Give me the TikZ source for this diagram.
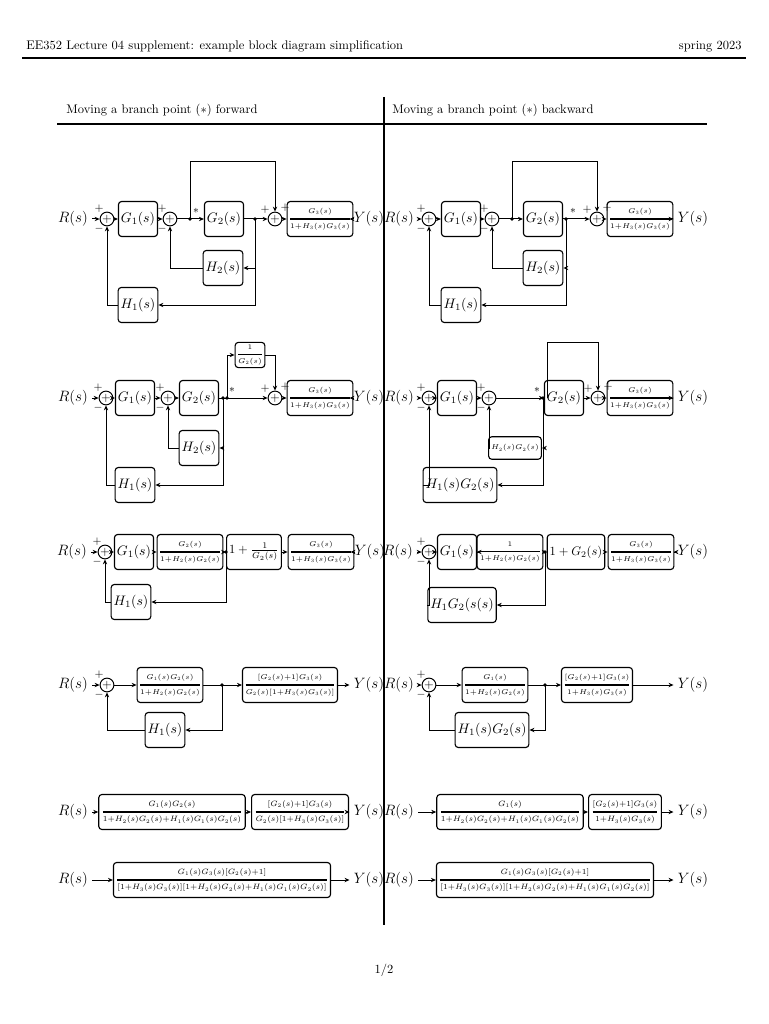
\RequirePackage{fix-cm}
\documentclass[tikz,border=0pt]{standalone}
\usepackage{amsmath}
\usetikzlibrary{arrows.meta}
\tikzset{
 blk/.style={draw, line width=0.9pt, rounded corners=2.5pt, minimum height=28pt, inner sep=2pt, font=\fontsize{11}{13}\selectfont},
 fblk/.style={blk, font=\fontsize{5.6}{6.5}\selectfont, inner xsep=1.2pt},
 wblk/.style={blk, font=\fontsize{6.2}{7}\selectfont, inner xsep=2pt},
 sm/.style={draw, circle, line width=0.8pt, minimum size=11pt, inner sep=0pt, font=\normalsize},
 sig/.style={line width=0.8pt, -{Stealth[length=4pt,width=3.5pt]}},
 ln/.style={line width=0.8pt},
 lab/.style={font=\fontsize{12}{14}\selectfont},
 sg/.style={font=\small, inner sep=0pt},
 bp/.style={circle, fill, inner sep=0pt, minimum size=3pt},
 hdr/.style={font=\normalsize, anchor=base west}
}
\newcommand\ff[2]{\genfrac{}{}{0.9pt}{0}{#1}{#2}}
\newcommand\pp{{+}}
\newcommand\sgpm[2]{\node[sg] at (#1-8,#2-10) {$+$}; \node[sg] at (#1-8,#2+10) {$-$};}
\newcommand\sgpp[2]{\node[sg] at (#1-10,#2-9) {$+$}; \node[sg] at (#1+10,#2-11) {$+$};}
\begin{document}
\begin{tikzpicture}[x=0.8pt,y=-0.8pt]
\useasboundingbox (0,0) rectangle (768,1024);
% header
\node[hdr] (t1) at (22,50) {EE352 Lecture 04 supplement: example block diagram simplification};
\node[hdr, anchor=base east] (t2) at (746,50) {spring 2023};
\draw[line width=1.3pt] (22,58) -- (746,58);
\node[hdr] (t3) at (62,114) {Moving a branch point ($*$) forward};
\node[hdr] (t4) at (388,114) {Moving a branch point ($*$) backward};
\draw[line width=1.3pt] (57,124) -- (707,124);
\draw[line width=1pt] (384,97) -- (384,925);
\node (pg) at (384,970) {1/2};

% ===== Row 1 left =====
\node[lab] (R1) at (73,219) {$R(s)$};
\node[sm] (s11) at (107,219) {$+$}; \sgpm{107}{219}
\node[blk] (g11) at (138,219) {$G_1(s)$};
\node[sm] (s12) at (170,219) {$+$}; \sgpm{170}{219}
\coordinate (b11) at (190,219); \node[bp] (d11) at (b11) {}; \node[sg] (st1) at (196,211) {$*$};
\node[blk] (g12) at (224,219) {$G_2(s)$};
\coordinate (b12) at (255,219); \node[bp] (d12) at (b12) {};
\node[sm] (s13) at (275,219) {$+$}; \sgpp{275}{219}
\node[fblk] (g13) at (320,219) {$\ff{G_3(s)}{1\pp H_3(s)G_3(s)}$};
\node[lab] (Y1) at (369,219) {$Y(s)$};
\node[blk] (h12) at (223,268) {$H_2(s)$};
\node[blk] (h11) at (138,305) {$H_1(s)$};
\draw[sig] (R1) -- (s11); \draw[sig] (s11) -- (g11); \draw[sig] (g11) -- (s12);
\draw[sig] (s12) -- (g12); \draw[sig] (g12) -- (s13); \draw[sig] (s13) -- (g13); \draw[sig] (g13) -- (Y1);
\draw[sig] (b11) -- (190,162) -| (s13);
\draw[sig] (b12) |- (h12); \draw[sig] (h12) -| (s12);
\draw[sig] (b12) |- (h11); \draw[sig] (h11) -| (s11);

% ===== Row 1 right =====
\node[lab] (R2) at (399,219) {$R(s)$};
\node[sm] (s21) at (429,219) {$+$}; \sgpm{429}{219}
\node[blk] (g21) at (461,219) {$G_1(s)$};
\node[sm] (s22) at (492,219) {$+$}; \sgpm{492}{219}
\coordinate (b21) at (512,219); \node[bp] (d21) at (b21) {};
\node[blk] (g22) at (543,219) {$G_2(s)$};
\coordinate (b22) at (566,219); \node[bp] (d22) at (b22) {}; \node[sg] (st2) at (573,211) {$*$};
\node[sm] (s23) at (597,219) {$+$}; \sgpp{597}{219}
\node[fblk] (g23) at (640,219) {$\ff{G_3(s)}{1\pp H_3(s)G_3(s)}$};
\node[lab] (Y2) at (693,219) {$Y(s)$};
\node[blk] (h22) at (543,268) {$H_2(s)$};
\node[blk] (h21) at (461,305) {$H_1(s)$};
\draw[sig] (R2) -- (s21); \draw[sig] (s21) -- (g21); \draw[sig] (g21) -- (s22);
\draw[sig] (s22) -- (g22); \draw[sig] (g22) -- (s23); \draw[sig] (s23) -- (g23); \draw[sig] (g23) -- (Y2);
\draw[sig] (b21) -- (512,162) -| (s23);
\draw[sig] (b22) |- (h22); \draw[sig] (h22) -| (s22);
\draw[sig] (b22) |- (h21); \draw[sig] (h21) -| (s21);

% ===== Row 2 left =====
\node[lab] (R3) at (73,398) {$R(s)$};
\node[sm] (s31) at (106,398) {$+$}; \sgpm{106}{398}
\node[blk] (g31) at (135,398) {$G_1(s)$};
\node[sm] (s32) at (168,398) {$+$}; \sgpm{168}{398}
\node[blk] (g32) at (199,398) {$G_2(s)$};
\coordinate (b31) at (223,398); \node[bp] (d31) at (b31) {};
\coordinate (b32) at (227,398); \node[bp] (d32) at (b32) {}; \node[sg] (st3) at (232,390) {$*$};
\node[fblk, minimum height=18pt] (k31) at (250,355) {$\ff{1}{G_2(s)}$};
\node[sm] (s33) at (275,398) {$+$}; \sgpp{275}{398}
\node[fblk] (g33) at (320,398) {$\ff{G_3(s)}{1\pp H_3(s)G_3(s)}$};
\node[lab] (Y3) at (369,398) {$Y(s)$};
\node[blk] (h32) at (199,448) {$H_2(s)$};
\node[blk] (h31) at (135,485) {$H_1(s)$};
\draw[sig] (R3) -- (s31); \draw[sig] (s31) -- (g31); \draw[sig] (g31) -- (s32);
\draw[sig] (s32) -- (g32); \draw[ln] (g32) -- (b32); \draw[sig] (b32) -- (s33); \draw[sig] (s33) -- (g33); \draw[sig] (g33) -- (Y3);
\draw[sig] (b32) |- (k31); \draw[sig] (k31) -| (s33);
\draw[sig] (b31) |- (h32); \draw[sig] (h32) -| (s32);
\draw[sig] (b31) |- (h31); \draw[sig] (h31) -| (s31);

% ===== Row 2 right =====
\node[lab] (R4) at (399,398) {$R(s)$};
\node[sm] (s41) at (429,398) {$+$}; \sgpm{429}{398}
\node[blk] (g41) at (457,398) {$G_1(s)$};
\node[sm] (s42) at (489,398) {$+$}; \sgpm{489}{398}
\coordinate (b41) at (543,398); \node[bp] (d41) at (b41) {}; \node[sg] (st4) at (537,390) {$*$};
\coordinate (b42) at (547,398);
\node[blk] (g42) at (564,398) {$G_2(s)$};
\node[sm] (s43) at (598,398) {$+$}; \sgpp{598}{398}
\node[fblk] (g43) at (640,398) {$\ff{G_3(s)}{1\pp H_3(s)G_3(s)}$};
\node[lab] (Y4) at (693,398) {$Y(s)$};
\node[blk, font=\fontsize{5.6}{6.5}\selectfont, minimum height=18pt] (h42) at (515,448) {$H_2(s)G_2(s)$};
\node[blk] (h41) at (460,485) {$H_1(s)G_2(s)$};
\draw[sig] (R4) -- (s41); \draw[sig] (s41) -- (g41); \draw[sig] (g41) -- (s42);
\draw[sig] (s42) -- (g42); \draw[sig] (g42) -- (s43); \draw[sig] (s43) -- (g43); \draw[sig] (g43) -- (Y4);
\draw[sig] (b42) -- (547,342) -| (s43);
\draw[sig] (b41) |- (h42); \draw[sig] (h42) -| (s42);
\draw[sig] (b41) |- (h41); \draw[sig] (h41) -| (s41);

% ===== Row 3 left =====
\node[lab] (R5) at (72,552) {$R(s)$};
\node[sm] (s51) at (105,552) {$+$}; \sgpm{105}{552}
\node[blk] (g51) at (134,552) {$G_1(s)$};
\node[fblk] (g52) at (190,552) {$\ff{G_2(s)}{1\pp H_2(s)G_2(s)}$};
\coordinate (b51) at (226,552); \node[bp] (d51) at (b51) {};
\node[blk, font=\fontsize{10}{12}\selectfont] (g53) at (254,552) {$1+\genfrac{}{}{0.9pt}{1}{1}{G_2(s)}$};
\node[fblk] (g54) at (321,552) {$\ff{G_3(s)}{1\pp H_3(s)G_3(s)}$};
\node[lab] (Y5) at (370,552) {$Y(s)$};
\node[blk] (h51) at (131,602) {$H_1(s)$};
\draw[sig] (R5) -- (s51); \draw[sig] (s51) -- (g51); \draw[sig] (g51) -- (g52);
\draw[sig] (g52) -- (g53); \draw[sig] (g53) -- (g54); \draw[sig] (g54) -- (Y5);
\draw[sig] (b51) |- (h51); \draw[sig] (h51) -| (s51);

% ===== Row 3 right =====
\node[lab] (R6) at (398,552) {$R(s)$};
\node[sm] (s61) at (429,552) {$+$}; \sgpm{429}{552}
\node[blk] (g61) at (457,552) {$G_1(s)$};
\node[fblk] (g62) at (510,552) {$\ff{1}{1\pp H_2(s)G_2(s)}$};
\coordinate (b61) at (545,552); \node[bp] (d61) at (b61) {};
\node[blk, font=\fontsize{10}{12}\selectfont] (g63) at (576,552) {$1+G_2(s)$};
\node[fblk] (g64) at (641,552) {$\ff{G_3(s)}{1\pp H_3(s)G_3(s)}$};
\node[lab] (Y6) at (693,552) {$Y(s)$};
\node[blk] (h61) at (462,605) {$H_1G_2(s(s)$};
\draw[sig] (R6) -- (s61); \draw[sig] (s61) -- (g61); \draw[sig] (g61) -- (g62);
\draw[sig] (g62) -- (g63); \draw[sig] (g63) -- (g64); \draw[sig] (g64) -- (Y6);
\draw[sig] (b61) |- (h61); \draw[sig] (h61) -| (s61);

% ===== Row 4 left =====
\node[lab] (R7) at (73,685) {$R(s)$};
\node[sm] (s71) at (107,685) {$+$}; \sgpm{107}{685}
\node[fblk] (g71) at (170,685) {$\ff{G_1(s)G_2(s)}{1\pp H_2(s)G_2(s)}$};
\coordinate (b71) at (222,685); \node[bp] (d71) at (b71) {};
\node[fblk] (g72) at (290,685) {$\ff{[G_2(s)\pp 1]G_3(s)}{G_2(s)[1\pp H_3(s)G_3(s)]}$};
\node[lab] (Y7) at (369,685) {$Y(s)$};
\node[blk] (h71) at (165,730) {$H_1(s)$};
\draw[sig] (R7) -- (s71); \draw[sig] (s71) -- (g71); \draw[sig] (g71) -- (g72); \draw[sig] (g72) -- (Y7);
\draw[sig] (b71) |- (h71); \draw[sig] (h71) -| (s71);

% ===== Row 4 right =====
\node[lab] (R8) at (399,685) {$R(s)$};
\node[sm] (s81) at (429,685) {$+$}; \sgpm{429}{685}
\node[fblk] (g81) at (495,685) {$\ff{G_1(s)}{1\pp H_2(s)G_2(s)}$};
\coordinate (b81) at (545,685); \node[bp] (d81) at (b81) {};
\node[fblk] (g82) at (597,685) {$\ff{[G_2(s)\pp 1]G_3(s)}{1\pp H_3(s)G_3(s)}$};
\node[lab] (Y8) at (693,685) {$Y(s)$};
\node[blk] (h81) at (492,730) {$H_1(s)G_2(s)$};
\draw[sig] (R8) -- (s81); \draw[sig] (s81) -- (g81); \draw[sig] (g81) -- (g82); \draw[sig] (g82) -- (Y8);
\draw[sig] (b81) |- (h81); \draw[sig] (h81) -| (s81);

% ===== Row 5 =====
\node[lab] (R9) at (73,812) {$R(s)$};
\node[wblk] (g91) at (172,812) {$\ff{G_1(s)G_2(s)}{1\pp H_2(s)G_2(s)\pp H_1(s)G_1(s)G_2(s)}$};
\node[wblk] (g92) at (300,812) {$\ff{[G_2(s)\pp 1]G_3(s)}{G_2(s)[1\pp H_3(s)G_3(s)]}$};
\node[lab] (Y9) at (369,812) {$Y(s)$};
\draw[sig] (R9) -- (g91); \draw[sig] (g91) -- (g92); \draw[sig] (g92) -- (Y9);
\node[lab] (R10) at (399,812) {$R(s)$};
\node[wblk] (g101) at (510,812) {$\ff{G_1(s)}{1\pp H_2(s)G_2(s)\pp H_1(s)G_1(s)G_2(s)}$};
\node[wblk] (g102) at (625,812) {$\ff{[G_2(s)\pp 1]G_3(s)}{1\pp H_3(s)G_3(s)}$};
\node[lab] (Y10) at (693,812) {$Y(s)$};
\draw[sig] (R10) -- (g101); \draw[sig] (g101) -- (g102); \draw[sig] (g102) -- (Y10);

% ===== Row 6 =====
\node[lab] (R11) at (73,880) {$R(s)$};
\node[wblk] (g111) at (222,880) {$\ff{G_1(s)G_3(s)[G_2(s)\pp 1]}{[1\pp H_3(s)G_3(s)][1\pp H_2(s)G_2(s)\pp H_1(s)G_1(s)G_2(s)]}$};
\node[lab] (Y11) at (369,880) {$Y(s)$};
\draw[sig] (R11) -- (g111); \draw[sig] (g111) -- (Y11);
\node[lab] (R12) at (399,880) {$R(s)$};
\node[wblk] (g121) at (545,880) {$\ff{G_1(s)G_3(s)[G_2(s)\pp 1]}{[1\pp H_3(s)G_3(s)][1\pp H_2(s)G_2(s)\pp H_1(s)G_1(s)G_2(s)]}$};
\node[lab] (Y12) at (693,880) {$Y(s)$};
\draw[sig] (R12) -- (g121); \draw[sig] (g121) -- (Y12);
\end{tikzpicture}
\end{document}
